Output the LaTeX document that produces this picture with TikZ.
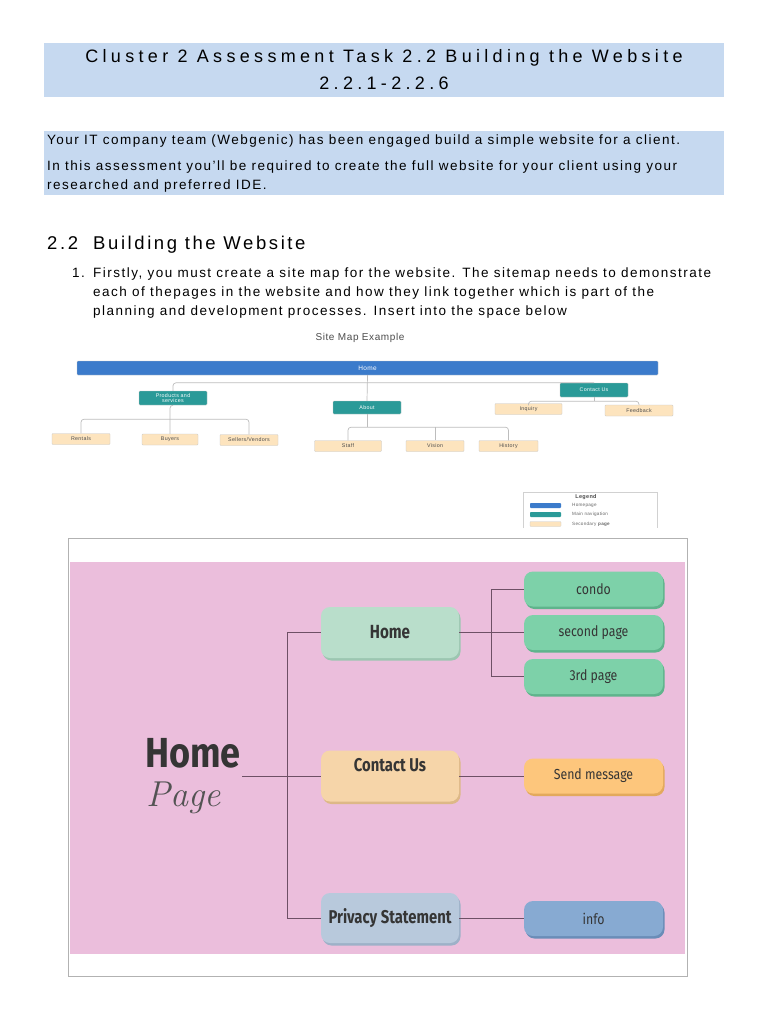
\documentclass[tikz,border=0pt]{standalone}
\usepackage{fontspec}
\usetikzlibrary{shadows,calc}
\newfontfamily\titlefont{Liberation Sans}[LetterSpace=24]
\newfontfamily\bodyfont{Liberation Sans}[LetterSpace=11]
\newfontfamily\headfont{Liberation Sans}[LetterSpace=14]
\newfontfamily\smfont{Liberation Sans}[LetterSpace=6]
\newfontfamily\mmfont{Fira Sans}
\definecolor{hdrblue}{HTML}{C6D9F0}
\definecolor{smblue}{HTML}{3B7BCB}
\definecolor{smteal}{HTML}{2A9A98}
\definecolor{smpeach}{HTML}{FDE4BE}
\definecolor{smline}{HTML}{BDBDBD}
\definecolor{pinkbg}{HTML}{EBBEDC}
\definecolor{mmtext}{HTML}{353535}
\definecolor{mmline}{HTML}{6E5066}
\definecolor{mint}{HTML}{B9DECB}
\definecolor{mintsh}{HTML}{9CC6B1}
\definecolor{peach}{HTML}{F6D5A9}
\definecolor{peachsh}{HTML}{DDB887}
\definecolor{steel}{HTML}{B8C9DC}
\definecolor{steelsh}{HTML}{9DB1C8}
\definecolor{green}{HTML}{7DD1A9}
\definecolor{greensh}{HTML}{5FB48C}
\definecolor{orange}{HTML}{FDC67C}
\definecolor{orangesh}{HTML}{E3A95C}
\definecolor{blue}{HTML}{87AAD2}
\definecolor{bluesh}{HTML}{6A8DB8}
\tikzset{
  smbox/.style={draw=black!22, line width=0.4pt, inner sep=0pt, rounded corners=0.8pt,
    font=\smfont\fontsize{5.3}{5.6}\selectfont, align=center},
  smprimary/.style={smbox, fill=smblue, text=white, minimum width=581pt, minimum height=14pt,
    font=\smfont\fontsize{6.5}{7}\selectfont},
  smmain/.style={smbox, fill=smteal, text=white, minimum width=68pt, minimum height=14pt},
  smsec/.style={smbox, fill=smpeach, text=black!70, minimum height=11pt},
  smconn/.style={draw=smline, line width=0.7pt, rounded corners=3pt},
  mmbox/.style={rounded corners=9pt, inner sep=0pt, text=mmtext,
    drop shadow={shadow xshift=1.5pt, shadow yshift=-2.5pt, opacity=1, fill=#1}},
  mmmain/.style={mmbox=#1, minimum width=138pt, minimum height=51pt,
    font=\mmfont\bfseries\fontsize{19}{20}\selectfont},
  mmsub/.style={mmbox=#1, minimum width=139pt, minimum height=35pt,
    font=\mmfont\fontsize{14.5}{16}\selectfont},
  mmconn/.style={draw=mmline, line width=0.8pt},
  doctext/.style={anchor=base west, inner sep=0pt, font=\bodyfont\fontsize{13.5}{15}\selectfont}
}
\begin{document}
\begin{tikzpicture}[x=1pt,y=-1pt]
\useasboundingbox (0,0) rectangle (768,1024);
\fill[white] (0,0) rectangle (768,1024);

% ---------- header ----------
\fill[hdrblue] (44,43) rectangle (724,97);
\node[anchor=base, inner sep=0pt, font=\titlefont\fontsize{18}{20}\selectfont] (t1) at (384,63)
  {Cluster 2 Assessment Task 2.2 Building the Website};
\node[anchor=base, inner sep=0pt, font=\titlefont\fontsize{18}{20}\selectfont] (t2) at (384,89.5)
  {2.2.1-2.2.6};

\fill[hdrblue] (44,131) rectangle (724,195);
\node[doctext] (b1) at (47,144.5) {Your IT company team (Webgenic) has been engaged build a simple website for a client.};
\node[doctext] (b2) at (47,170.5) {In this assessment you’ll be required to create the full website for your client using your};
\node[doctext] (b3) at (47,189.5) {researched and preferred IDE.};

\node[anchor=base west, inner sep=0pt, font=\headfont\fontsize{18.5}{20}\selectfont] (h0) at (47,249) {2.2};
\node[anchor=base west, inner sep=0pt, font=\headfont\fontsize{18.5}{20}\selectfont] (h1) at (93,249) {Building the Website};

\node[doctext] (l0) at (72,277.5) {1.};
\node[doctext] (l1) at (93,277.5) {Firstly, you must create a site map for the website. The sitemap needs to demonstrate};
\node[doctext] (l2) at (93,296.5) {each of thepages in the website and how they link together which is part of the};
\node[doctext] (l3) at (93,315.5) {planning and development processes. Insert into the space below};

% ---------- site map example ----------
\node[font=\smfont\fontsize{10}{11}\selectfont, text=black!70] (smtitle) at (360,338) {Site Map Example};
\node[smprimary] (smhome) at (367.5,368) {Home};
\node[smmain] (smprod) at (173,398) {Products and\\services};
\node[smmain, minimum height=13pt] (smabout) at (367,407.5) {About};
\node[smmain] (smcontact) at (594,390) {Contact Us};
\node[smsec, minimum width=58pt] (smrent) at (81,439) {Rentals};
\node[smsec, minimum width=56pt] (smbuy) at (170,439.5) {Buyers};
\node[smsec, minimum width=58pt] (smsell) at (249,440) {Sellers/Vendors};
\node[smsec, minimum width=67pt] (smstaff) at (348,446) {Staff};
\node[smsec, minimum width=58pt] (smvision) at (435,446) {Vision};
\node[smsec, minimum width=59pt] (smhist) at (508.5,446) {History};
\node[smsec, minimum width=67pt] (sminq) at (528.5,409) {Inquiry};
\node[smsec, minimum width=68pt] (smfeed) at (639,410.5) {Feedback};

\draw[smconn] (smprod.north) |- (smcontact.north);
\draw[smconn] (smhome.south) -- (smabout.north);
\draw[smconn] (smrent.north) |- ($(smprod.south)+(0,14)$) -| (smsell.north);
\draw[smconn] (smprod.south) -- (smbuy.north |- smprod.south) -- (smbuy.north);
\draw[smconn] (smstaff.north) |- ($(smabout.south)+(0,13)$) -| (smhist.north);
\draw[smconn] (smabout.south) -- ($(smabout.south)+(0,13)$);
\draw[smconn] (smvision.north) -- (smvision.north |- {$(smabout.south)+(0,13)$});
\draw[smconn] (sminq.north) |- ($(smcontact.south)+(0,4)$) -| (smfeed.north);
\draw[smconn] (smcontact.south) -- ($(smcontact.south)+(0,4)$);

% legend
\draw[black!18, line width=0.6pt] (523,528) |- (657,492) -- (657,528);
\node[font=\smfont\bfseries\fontsize{5.5}{6}\selectfont, text=black!70] (lgtitle) at (586,497.5) {Legend};
\fill[smblue, rounded corners=0.8pt] (530,503) rectangle (561,508);
\fill[smteal, rounded corners=0.8pt] (530,512) rectangle (561,517);
\filldraw[fill=smpeach, draw=black!20, line width=0.3pt, rounded corners=0.8pt] (530,521.5) rectangle (561,526.5);
\node[anchor=west, inner sep=0pt, font=\smfont\fontsize{4.6}{5}\selectfont, text=black!60] (lg1) at (572,505.5) {Homepage};
\node[anchor=west, inner sep=0pt, font=\smfont\fontsize{4.6}{5}\selectfont, text=black!60] (lg2) at (572,514.5) {Main navigation};
\node[anchor=west, inner sep=0pt, font=\smfont\fontsize{4.6}{5}\selectfont, text=black!60] (lg3) at (572,524) {Secondary \textbf{page}};

% ---------- mind map ----------
\draw[black!30, line width=0.9pt, fill=white] (68.5,538.5) rectangle (687.5,976);
\fill[pinkbg] (70,562) rectangle (685,954);

\node[anchor=base west, inner sep=0pt, text=mmtext, font=\mmfont\bfseries\fontsize{42}{44}\selectfont] (bighome) at (145,767)
  {\scalebox{0.86}[1]{Home}};
\node[anchor=base west, inner sep=0pt, text=mmtext!85, font=\itshape\fontsize{36}{38}\selectfont] (bigpage) at (146,806)
  {Page};
\coordinate (hpend) at (242,776);

\node[mmmain=mintsh, fill=mint] (mhome) at (390,632.5) {\scalebox{0.8}[1]{Home}};
\node[mmmain=peachsh, fill=peach] (mcontact) at (390,776) {};
\node[inner sep=0pt, text=mmtext, font=\mmfont\bfseries\fontsize{18.5}{20}\selectfont] (mcontacttxt) at (390,765.5) {\scalebox{0.8}[1]{Contact Us}};
\node[mmmain=steelsh, fill=steel, minimum height=50pt, font=\mmfont\bfseries\fontsize{18.5}{20}\selectfont] (mpriv) at (390,918) {\scalebox{0.8}[1]{Privacy Statement}};

\node[mmsub=greensh, fill=green] (mcondo) at (593.5,589) {\scalebox{0.85}[1]{condo}};
\node[mmsub=greensh, fill=green] (msecond) at (593.5,632.5) {\scalebox{0.85}[1]{second page}};
\node[mmsub=greensh, fill=green] (mthird) at (593.5,676.5) {\scalebox{0.85}[1]{3rd page}};
\node[mmsub=orangesh, fill=orange] (msend) at (593.5,776) {\scalebox{0.85}[1]{Send message}};
\node[mmsub=bluesh, fill=blue] (minfo) at (593.5,918.5) {\scalebox{0.85}[1]{info}};

\draw[mmconn] (mhome.west) -- ++(-33,0) |- (mpriv.west);
\draw[mmconn] (hpend) -- (mcontact.west);
\draw[mmconn] (mhome.east) -- (msecond.west);
\draw[mmconn] (mcondo.west) -- ++(-32,0) |- (mthird.west);
\draw[mmconn] (mcontact.east) -- (mcontact.east -| msend.west);
\draw[mmconn] (mpriv.east) -- (mpriv.east -| minfo.west);
\end{tikzpicture}
\end{document}
